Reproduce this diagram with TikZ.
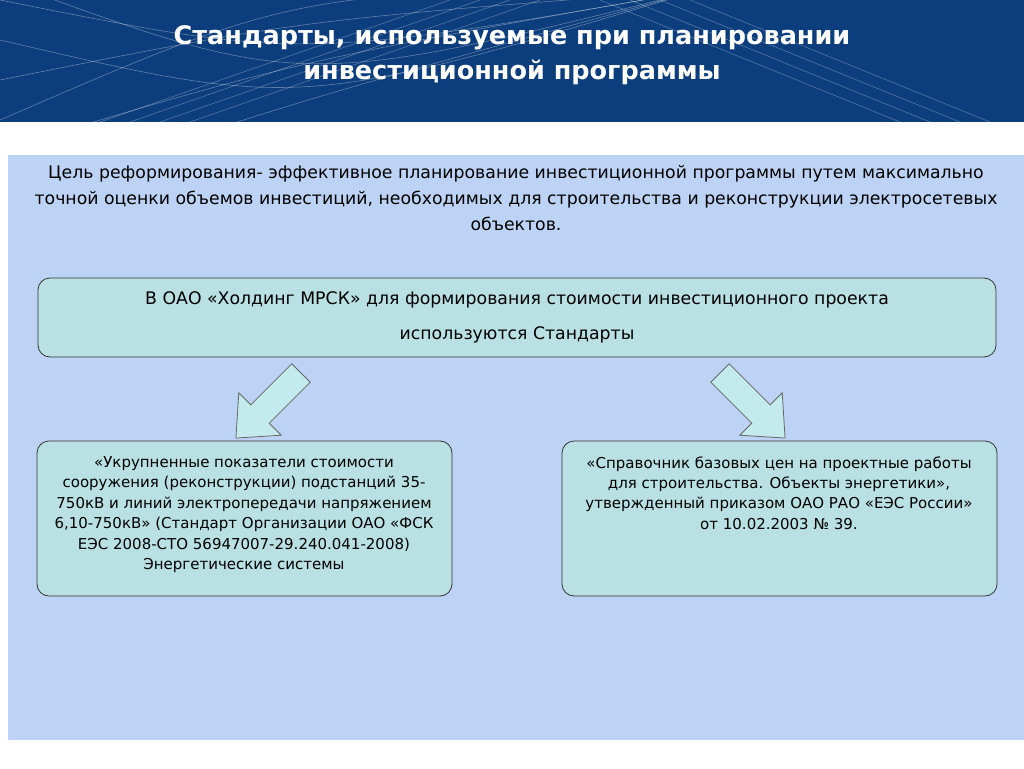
\documentclass[tikz,border=0pt]{standalone}
\usepackage{fontspec}
\setmainfont{DejaVu Sans}
\begin{document}
\begin{tikzpicture}[x=1pt,y=-1pt,
  box/.style={draw=black!80,line width=0.8pt,fill=boxc,rounded corners=12pt},
  txt/.style={align=center,font=\fontsize{15}{20.4}\selectfont,text=black},
  barrow/.style={draw=gray!80!black,line width=0.8pt,fill=arrc}]
\definecolor{hdr}{HTML}{0C3D7C}
\definecolor{panel}{HTML}{BDD3F5}
\definecolor{boxc}{HTML}{B9E0E3}
\definecolor{arrc}{HTML}{C3EAEC}
\useasboundingbox (0,0) rectangle (1024,768);
\fill[white] (0,0) rectangle (1024,768);
\fill[hdr] (0,0) rectangle (1024,122);
\begin{scope}
\clip (0,0) rectangle (1024,122);
\foreach \a/\b in {0/60,40/110,-20/90,80/20,120/-10,150/60,200/100}{
  \draw[white,opacity=0.35,line width=0.6pt] (0,\a) .. controls (300,\b) .. (700,-10);}
\foreach \a in {0,30,60,90}{
  \draw[white,opacity=0.3,line width=0.6pt] (100+\a,122) -- (450+\a,0);
  \draw[white,opacity=0.3,line width=0.6pt] (600+\a,0) -- (900+\a,122);}
\end{scope}
\node[font=\bfseries\fontsize{25.5}{35}\selectfont,text=white,align=center] (title) at (512,55) {Стандарты, используемые при планировании\\инвестиционной программы};
\fill[panel] (8,155) rectangle (1024,740);
\node[align=center,font=\fontsize{17.3}{26}\selectfont] (goal) at (516,198) {Цель реформирования- эффективное планирование инвестиционной программы путем максимально\\точной оценки объемов инвестиций, необходимых для строительства и реконструкции электросетевых\\объектов.};
\draw[box] (38,278) rectangle (996,357);
\node[align=center,font=\fontsize{17.3}{35}\selectfont] (top) at (517,317) {В ОАО «Холдинг МРСК» для формирования стоимости инвестиционного проекта\\используются Стандарты};
\draw[box] (37,441) rectangle (452,596);
\draw[box] (562,441) rectangle (997,596);
\node[txt,anchor=north] (l) at (244,453) {«Укрупненные показатели стоимости\\сооружения (реконструкции) подстанций 35-\\750кВ и линий электропередачи напряжением\\6,10-750кВ» (Стандарт Организации ОАО «ФСК\\ЕЭС 2008-СТО 56947007-29.240.041-2008)\\Энергетические системы};
\node[txt,anchor=north] (r) at (779,453) {«Справочник базовых цен на проектные работы\\для строительства. Объекты энергетики»,\\утвержденный приказом ОАО РАО «ЕЭС России»\\от 10.02.2003 № 39.};
\begin{scope}[shift={(301,373)},rotate=-135]
\draw[barrow] (0,-13) -- (58,-13) -- (58,-30) -- (92,0) -- (58,30) -- (58,13) -- (0,13) -- cycle;
\end{scope}
\begin{scope}[shift={(720,373)},rotate=-45]
\draw[barrow] (0,-13) -- (58,-13) -- (58,-30) -- (92,0) -- (58,30) -- (58,13) -- (0,13) -- cycle;
\end{scope}
\end{tikzpicture}
\end{document}
